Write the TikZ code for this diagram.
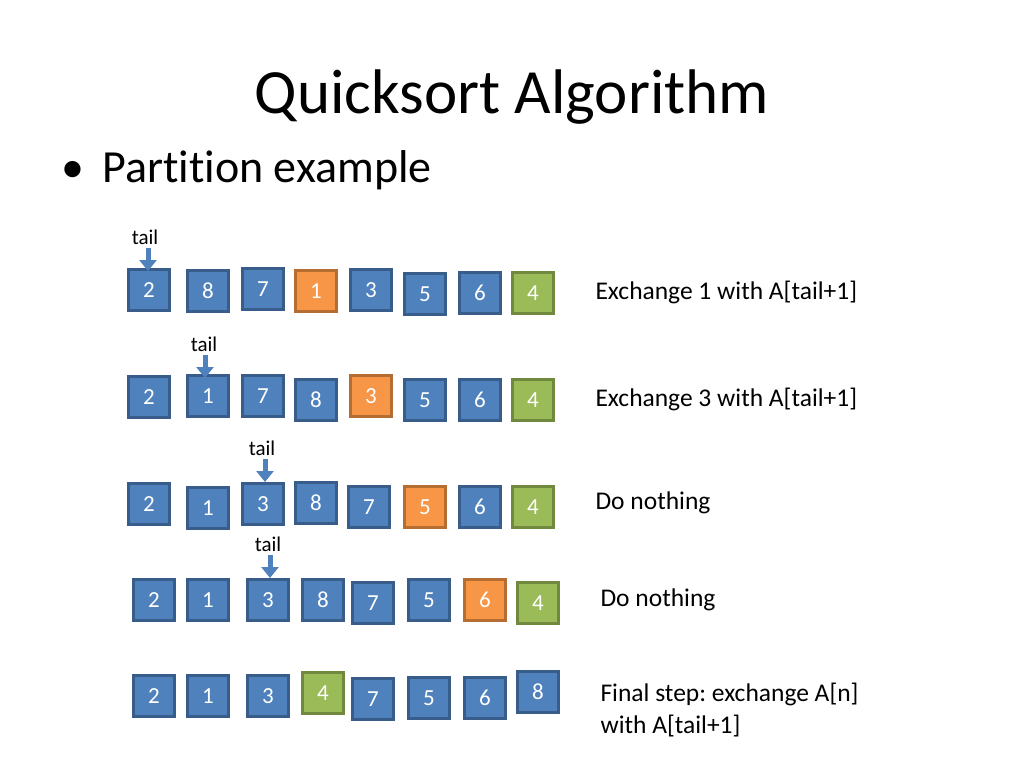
\documentclass[tikz,border=0pt]{standalone}
\usepackage{fontspec}
\setmainfont{Carlito}[Ligatures={NoCommon}]
\usetikzlibrary{arrows.meta}
\definecolor{bfill}{HTML}{4F81BD}\definecolor{bdraw}{HTML}{385D8A}
\definecolor{ofill}{HTML}{F79646}\definecolor{odraw}{HTML}{B66D31}
\definecolor{gfill}{HTML}{9BBB59}\definecolor{gdraw}{HTML}{71893F}
\frenchspacing
\begin{document}
\begin{tikzpicture}[x=1pt,y=-1pt,
 cell/.style={minimum size=41pt,inner sep=0pt,line width=2.6pt,text=white,font=\fontsize{23}{27}\selectfont},
 bc/.style={cell,fill=bfill,draw=bdraw},
 oc/.style={cell,fill=ofill,draw=odraw},
 gc/.style={cell,fill=gfill,draw=gdraw},
 lab/.style={font=\fontsize{25.5}{32}\selectfont,anchor=west,align=left},
 taillab/.style={font=\fontsize{21}{24}\selectfont},
 ptr/.style={-{Triangle[length=11pt,width=17pt]},line width=5pt,draw=bfill}]
\useasboundingbox (0,0) rectangle (1024,768);
\node (title) at (512,97) {\fontsize{63}{70}\selectfont Quicksort Algorithm};
\node[anchor=west] (bul) at (58,170) {\fontsize{46}{52}\selectfont •\hspace{18pt}Partition example};
% row 1
\node[bc] (a1) at (149,290) {2};\node[bc] (a2) at (208,291) {8};\node[bc] (a3) at (263,289) {7};
\node[oc] (a4) at (316,291) {1};\node[bc] (a5) at (371,290) {3};\node[bc] (a6) at (425,294) {5};
\node[bc] (a7) at (480,293) {6};\node[gc] (a8) at (533,293) {4};
\node[lab] (ta) at (592,292) {Exchange 1 with A[tail+1]};
\node[taillab] (la) at (145,237) {tail};
\coordinate (pa) at (148,248); \coordinate (qa) at (148,271);
\draw[ptr] (pa) -- (qa);
% row 2
\node[bc] (b1) at (149,397) {2};\node[bc] (b2) at (208,396) {1};\node[bc] (b3) at (263,396) {7};
\node[bc] (b4) at (316,400) {8};\node[oc] (b5) at (371,396) {3};\node[bc] (b6) at (425,400) {5};
\node[bc] (b7) at (480,400) {6};\node[gc] (b8) at (533,400) {4};
\node[lab] (tb) at (592,399) {Exchange 3 with A[tail+1]};
\node[taillab] (lb) at (204,344) {tail};
\coordinate (pb) at (205,355); \coordinate (qb) at (205,378);
\draw[ptr] (pb) -- (qb);
% row 3
\node[bc] (c1) at (149,504) {2};\node[bc] (c2) at (208,508) {1};\node[bc] (c3) at (263,504) {3};
\node[bc] (c4) at (316,503) {8};\node[bc] (c5) at (369,507) {7};\node[oc] (c6) at (425,507) {5};
\node[bc] (c7) at (480,507) {6};\node[gc] (c8) at (533,507) {4};
\node[lab] (tc) at (592,503) {Do nothing};
\node[taillab] (lc) at (262,448) {tail};
\coordinate (pc) at (265,459); \coordinate (qc) at (265,482);
\draw[ptr] (pc) -- (qc);
% row 4
\node[bc] (d1) at (154,600) {2};\node[bc] (d2) at (208,600) {1};\node[bc] (d3) at (268,600) {3};
\node[bc] (d4) at (323,600) {8};\node[bc] (d5) at (373,603) {7};\node[bc] (d6) at (429,600) {5};
\node[oc] (d7) at (485,600) {6};\node[gc] (d8) at (538,603) {4};
\node[lab] (td) at (597,600) {Do nothing};
\node[taillab] (ld) at (268,544) {tail};
\coordinate (pd) at (270,555); \coordinate (qd) at (270,578);
\draw[ptr] (pd) -- (qd);
% row 5
\node[bc] (e1) at (154,696) {2};\node[bc] (e2) at (208,696) {1};\node[bc] (e3) at (268,696) {3};
\node[gc] (e4) at (323,693) {4};\node[bc] (e5) at (373,699) {7};\node[bc] (e6) at (429,698) {5};
\node[bc] (e7) at (485,698) {6};\node[bc] (e8) at (538,692) {8};
\node[lab] (te) at (597,710) {Final step: exchange A[n]\\with A[tail+1]};
\end{tikzpicture}
\end{document}
